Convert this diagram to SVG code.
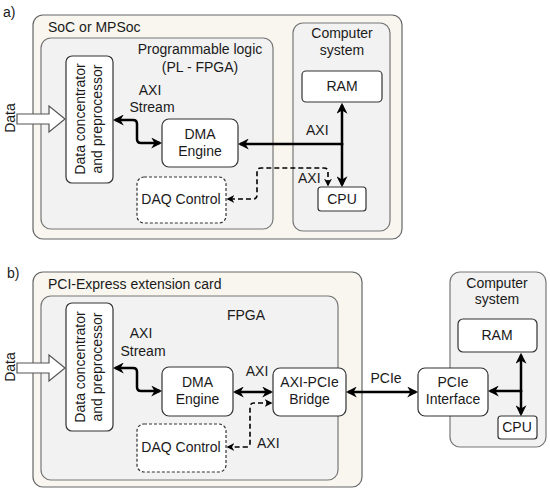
<svg xmlns="http://www.w3.org/2000/svg" width="550" height="491" viewBox="0 0 550 491">
<defs>
<style>
text{font-family:"Liberation Sans",Arial,sans-serif;font-size:14px;fill:#1a1a1a}
.m{text-anchor:middle}
.outer{fill:#f8f6ee;stroke:#666;stroke-width:1.2}
.inner{fill:#f2f2f2;stroke:#777;stroke-width:1.2}
.box{fill:#fff;stroke:#333;stroke-width:1.2}
.dbox{fill:#fff;stroke:#333;stroke-width:1.2;stroke-dasharray:3 2}
.thick{fill:none;stroke:#000;stroke-width:2.5}
.dash{fill:none;stroke:#000;stroke-width:1.6;stroke-dasharray:5 3}
.blk{fill:#fff;stroke:#555;stroke-width:1.2}
</style>
<marker id="ah" viewBox="0 0 10 10" markerWidth="11" markerHeight="11" refX="8" refY="5" orient="auto-start-reverse" markerUnits="userSpaceOnUse">
<path d="M0,0 L10,5 L0,10 L3,5 z" fill="#000"/>
</marker>
<marker id="ahs" viewBox="0 0 10 10" markerWidth="8" markerHeight="8" refX="8" refY="5" orient="auto-start-reverse" markerUnits="userSpaceOnUse">
<path d="M0,0 L10,5 L0,10 L3,5 z" fill="#000"/>
</marker>
</defs>

<!-- Part a -->
<text x="3" y="17">a)</text>
<g id="soc">
<rect class="outer" x="33" y="15" width="369" height="224" rx="10"/>
<text x="48" y="32">SoC or MPSoc</text>
</g>
<g id="pl">
<rect class="inner" x="41" y="38" width="232" height="191" rx="10"/>
<text class="m" x="200" y="54">Programmable logic</text>
<text class="m" x="200" y="72">(PL - FPGA)</text>
</g>
<g id="cs-a">
<rect class="inner" x="293" y="23" width="97" height="208" rx="10"/>
<text class="m" x="342" y="38">Computer</text>
<text class="m" x="342" y="55">system</text>
</g>
<g id="ram-a">
<rect class="box" x="302" y="71" width="80" height="31" rx="4"/>
<text class="m" x="342" y="91">RAM</text>
</g>
<g id="cpu-a">
<rect class="box" x="318" y="187" width="48" height="24" rx="3"/>
<text class="m" x="342" y="204">CPU</text>
</g>
<g id="dc-a">
<rect class="box" x="66" y="56" width="47" height="127" rx="6"/>
<text class="m" transform="translate(85,119) rotate(-90)">Data concentrator</text>
<text class="m" transform="translate(102,119) rotate(-90)">and preprocessor</text>
</g>
<g id="dma-a">
<rect class="box" x="162" y="119" width="76" height="48" rx="7"/>
<text class="m" x="200" y="139">DMA</text>
<text class="m" x="200" y="156">Engine</text>
</g>
<g id="daq-a">
<rect class="dbox" x="137" y="177" width="89" height="46" rx="7"/>
<text class="m" x="181" y="204">DAQ Control</text>
</g>
<g id="data-a">
<path class="blk" d="M17,114 H49 V106 L65,119 L49,132 V124 H17 z"/>
<text class="m" transform="translate(15,118) rotate(-90)">Data</text>
</g>

<g id="connectors-a">
<path class="thick" d="M342,105 V185" marker-start="url(#ah)" marker-end="url(#ah)"/>
<path class="thick" d="M342,144 H240" marker-end="url(#ah)"/>
<circle cx="342" cy="144" r="1.5" fill="#000"/>
<path class="thick" d="M115,120 H133 Q137,120 137,124 V139 Q137,143 141,143 H160" marker-start="url(#ah)" marker-end="url(#ah)"/>
<path class="dash" d="M328,185 V172 Q328,168 324,168 H261 Q257,168 257,172 V195 Q257,199 253,199 H228" marker-start="url(#ahs)" marker-end="url(#ahs)"/>
<text x="306" y="135">AXI</text>
<text x="298" y="183">AXI</text>
<text class="m" x="150" y="95">AXI</text>
<text class="m" x="152" y="112">Stream</text>
</g>

<!-- Part b -->
<text x="7" y="278">b)</text>
<g id="card">
<rect class="outer" x="33" y="272" width="329" height="215" rx="10"/>
<text x="48" y="289">PCI-Express extension card</text>
</g>
<g id="fpga">
<rect class="inner" x="41" y="296" width="297" height="184" rx="10"/>
<text class="m" x="246" y="320">FPGA</text>
</g>
<g id="cs-b">
<rect class="inner" x="450" y="272" width="96" height="175" rx="10"/>
<text class="m" x="497" y="288">Computer</text>
<text class="m" x="497" y="304">system</text>
</g>
<g id="ram-b">
<rect class="box" x="458" y="319" width="79" height="33" rx="5"/>
<text class="m" x="497" y="340">RAM</text>
</g>
<g id="cpu-b">
<rect class="box" x="498" y="416" width="39" height="23" rx="3"/>
<text class="m" x="517" y="432">CPU</text>
</g>
<g id="dc-b">
<rect class="box" x="66" y="303" width="47" height="128" rx="6"/>
<text class="m" transform="translate(85,367) rotate(-90)">Data concentrator</text>
<text class="m" transform="translate(102,367) rotate(-90)">and preprocessor</text>
</g>
<g id="dma-b">
<rect class="box" x="162" y="367" width="71" height="49" rx="7"/>
<text class="m" x="197.5" y="387">DMA</text>
<text class="m" x="197.5" y="404">Engine</text>
</g>
<g id="bridge">
<rect class="box" x="273" y="368" width="73" height="48" rx="7"/>
<text class="m" x="309.5" y="387">AXI-PCIe</text>
<text class="m" x="309.5" y="404">Bridge</text>
</g>
<g id="pcie-if">
<rect class="box" x="418" y="368" width="70" height="48" rx="7"/>
<text class="m" x="453" y="387">PCIe</text>
<text class="m" x="453" y="404">Interface</text>
</g>
<g id="daq-b">
<rect class="dbox" x="137" y="424" width="89" height="48" rx="7"/>
<text class="m" x="181" y="452">DAQ Control</text>
</g>
<g id="data-b">
<path class="blk" d="M17,363 H49 V355 L65,368 L49,381 V373 H17 z"/>
<text class="m" transform="translate(15,367) rotate(-90)">Data</text>
</g>

<g id="connectors-b">
<path class="thick" d="M115,368 H133 Q137,368 137,372 V387 Q137,391 141,391 H160" marker-start="url(#ah)" marker-end="url(#ah)"/>
<path class="thick" d="M235,392 H271" marker-start="url(#ah)" marker-end="url(#ah)"/>
<path class="thick" d="M348,392 H416" marker-start="url(#ah)" marker-end="url(#ah)"/>
<path class="thick" d="M521,355 V414" marker-start="url(#ah)" marker-end="url(#ah)"/>
<path class="thick" d="M521,391 H490" marker-end="url(#ah)"/>
<circle cx="521" cy="391" r="1.5" fill="#000"/>
<path class="dash" d="M271,403 H254 Q250,403 250,407 V443 Q250,447 246,447 H228" marker-start="url(#ahs)" marker-end="url(#ahs)"/>
<text class="m" x="141" y="338">AXI</text>
<text class="m" x="143" y="356">Stream</text>
<text class="m" x="257" y="376">AXI</text>
<text x="257" y="448">AXI</text>
<text class="m" x="386" y="383">PCIe</text>
</g>
</svg>
